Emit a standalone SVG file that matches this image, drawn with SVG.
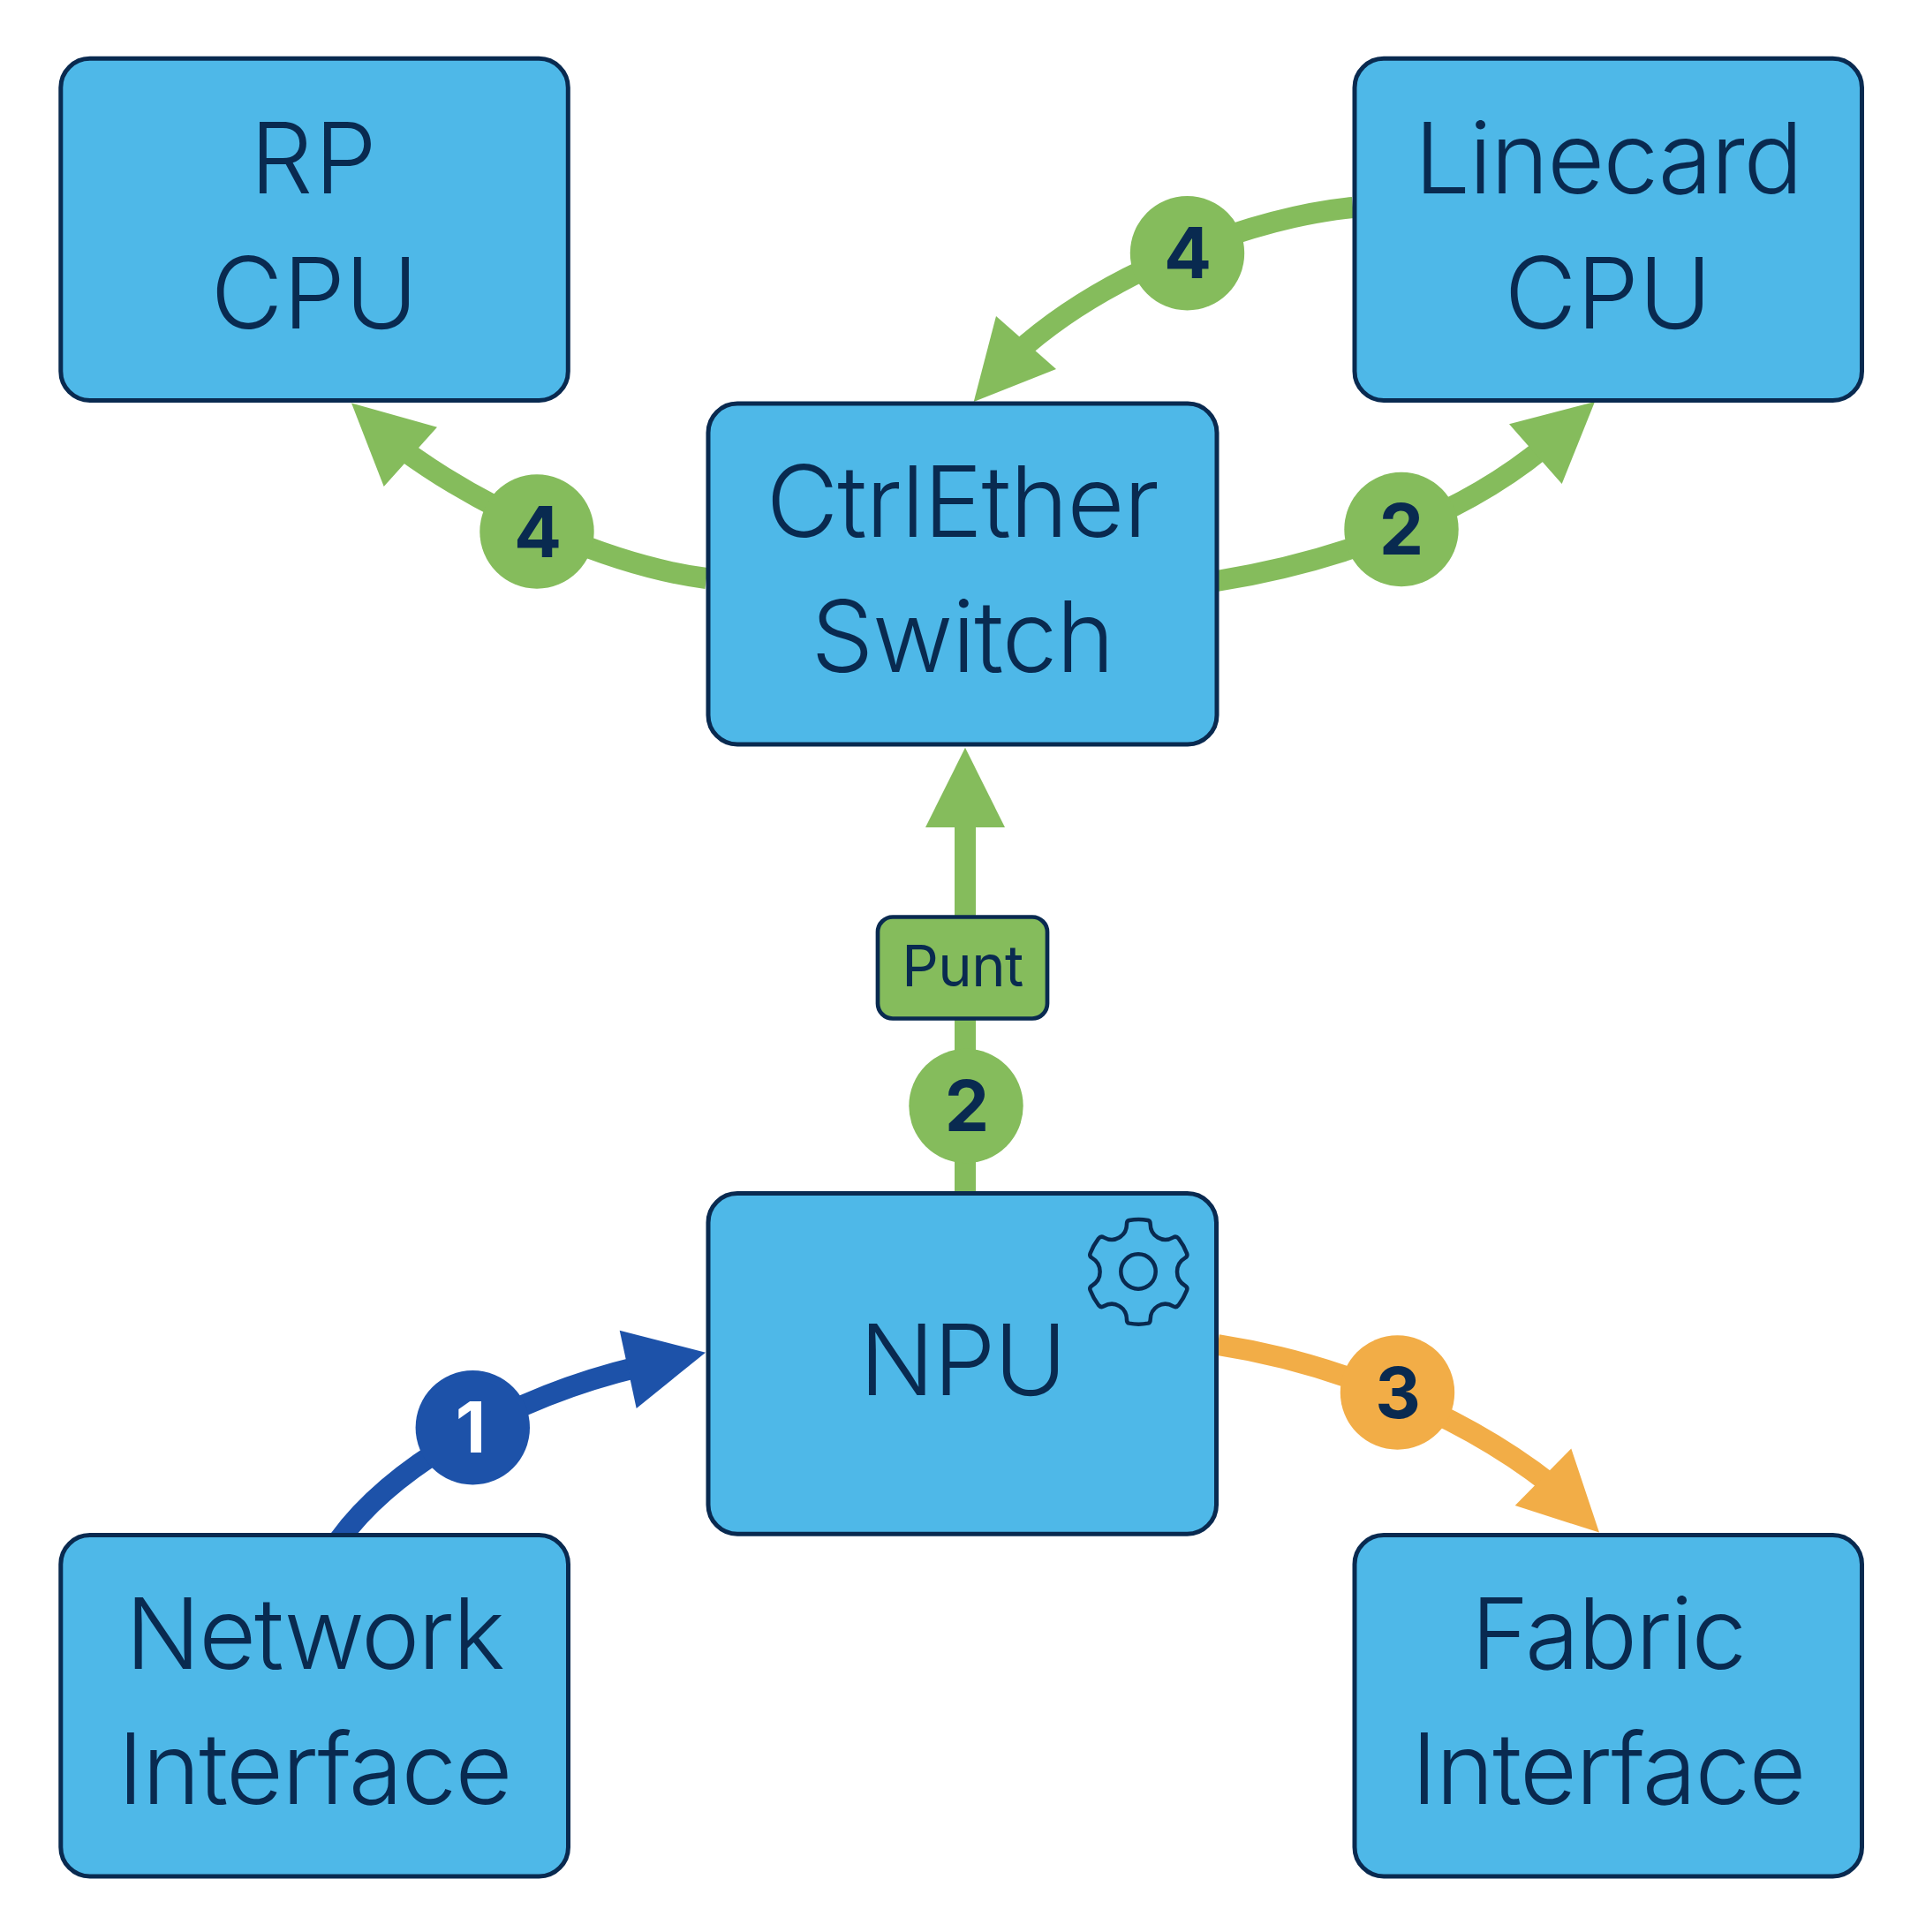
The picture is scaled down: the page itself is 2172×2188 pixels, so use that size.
<svg xmlns="http://www.w3.org/2000/svg" width="2172" height="2188" viewBox="0 0 2172 2188">
<style>
.n{fill:#4EB8E8;stroke:#092A50;stroke-width:5}
.t{font-family:Inter,"Liberation Sans",sans-serif;font-weight:300;font-size:112px;fill:#092A50;text-anchor:middle}
.b{font-family:Inter,"Liberation Sans",sans-serif;font-weight:700;font-size:80px;fill:#092A50;text-anchor:middle}
.c{fill:none;stroke-width:24}
.g{stroke:#85BC5C}.gf{fill:#85BC5C}
</style>
<rect width="2172" height="2188" fill="#fff"/>
<g id="connectors">
<path class="c" stroke="#1D52A9" d="M384 1744C445 1660 580 1582 723 1548"/>
<polygon fill="#1D52A9" points="799,1531.7 701.7,1506.7 720.7,1595"/>
<circle cx="535.3" cy="1616.7" r="64.7" fill="#1D52A9"/>
<path class="c" stroke="#F2AD47" d="M1379 1523C1490 1540 1640 1590 1756 1681"/>
<polygon fill="#F2AD47" points="1811,1735.6 1779.3,1640.4 1715.7,1705"/>
<circle cx="1582.5" cy="1577" r="64.7" fill="#F2AD47"/>
<path class="c g" d="M1093 1352V930"/>
<polygon class="gf" points="1093,846.8 1048,937 1138,937"/>
<circle class="gf" cx="1094" cy="1252.5" r="64.7"/>
<path class="c g" d="M800 655C700 642 560 585 456 509"/>
<polygon class="gf" points="398,456.6 495,483.7 434.7,551"/>
<circle class="gf" cx="608" cy="602" r="64.7"/>
<path class="c g" d="M1378 658C1490 640 1640 596 1748 507"/>
<polygon class="gf" points="1806,455 1709,480.3 1768.7,548"/>
<circle class="gf" cx="1587" cy="599.5" r="64.7"/>
<path class="c g" d="M1532 235C1425 245 1255 305 1150 401"/>
<polygon class="gf" points="1102.7,455 1128,358 1196,418"/>
<circle class="gf" cx="1344.5" cy="286.7" r="64.7"/>
</g>
<g id="badges">
<text x="533" y="1645" class="b" style="fill:#fff">1</text>
<text x="1095" y="1280.5" class="b">2</text>
<text x="1587" y="628" class="b">2</text>
<text x="1583" y="1605.5" class="b">3</text>
<text x="609" y="631" class="b">4</text>
<text x="1345" y="315" class="b">4</text>
</g>
<g id="rp"><rect class="n" x="68.8" y="66.3" width="574.5" height="387.2" rx="33"/><text class="t" x="356" y="218.5" style="letter-spacing:2px">RP</text><text class="t" x="356" y="371.5">CPU</text></g>
<g id="linecard"><rect class="n" x="1534" y="66.3" width="574.5" height="387.2" rx="33"/><text class="t" x="1821" y="218.5" style="letter-spacing:-1.6px">Linecard</text><text class="t" x="1821" y="371.5">CPU</text></g>
<g id="ctrlether"><rect class="n" x="802" y="457" width="576" height="386" rx="33"/><text class="t" x="1089.7" y="608" style="letter-spacing:-1.1px">CtrlEther</text><text class="t" x="1089.7" y="761" style="letter-spacing:-1.1px">Switch</text></g>
<g id="npu"><rect class="n" x="802" y="1351.5" width="575.5" height="385.7" rx="33"/><text class="t" x="1090" y="1580" style="letter-spacing:-1.5px">NPU</text>
<path transform="translate(1100 1300) scale(.3333)" fill="none" stroke="#092A50" stroke-width="13.5" d="M536 246Q568 240 600 246Q608 248 608 258C608 300 650 325 686 304Q696 298 704 308Q722 332 732 358Q736 368 726 374C690 395 690 447 726 468Q736 474 732 484Q722 510 704 534Q696 544 686 538C650 517 608 542 608 584Q608 594 600 596Q568 602 536 596Q528 594 528 584C528 542 486 517 450 538Q440 544 432 534Q414 510 404 484Q400 474 410 468C446 447 446 395 410 374Q400 368 404 358Q414 332 432 308Q440 298 450 304C486 325 528 300 528 258Q528 248 536 246Z"/>
<circle cx="1289" cy="1440" r="19.7" fill="none" stroke="#092A50" stroke-width="4.5"/></g>
<g id="network"><rect class="n" x="68.8" y="1738.5" width="574.7" height="386.5" rx="33"/><text class="t" x="356" y="1890" style="letter-spacing:-2px">Network</text><text class="t" x="356" y="2043" style="letter-spacing:-1.7px">Interface</text></g>
<g id="fabric"><rect class="n" x="1534" y="1738.5" width="574.5" height="386.5" rx="33"/><text class="t" x="1821" y="1890" style="letter-spacing:-2px">Fabric</text><text class="t" x="1821" y="2043" style="letter-spacing:-1.7px">Interface</text></g>
<g id="punt"><rect x="994" y="1038.5" width="192" height="115" rx="17" fill="#85BC5C" stroke="#092A50" stroke-width="4.7"/><text x="1090" y="1117" style="font-family:Inter,'Liberation Sans',sans-serif;font-size:65px;letter-spacing:-.5px;fill:#092A50;text-anchor:middle">Punt</text></g>
</svg>
